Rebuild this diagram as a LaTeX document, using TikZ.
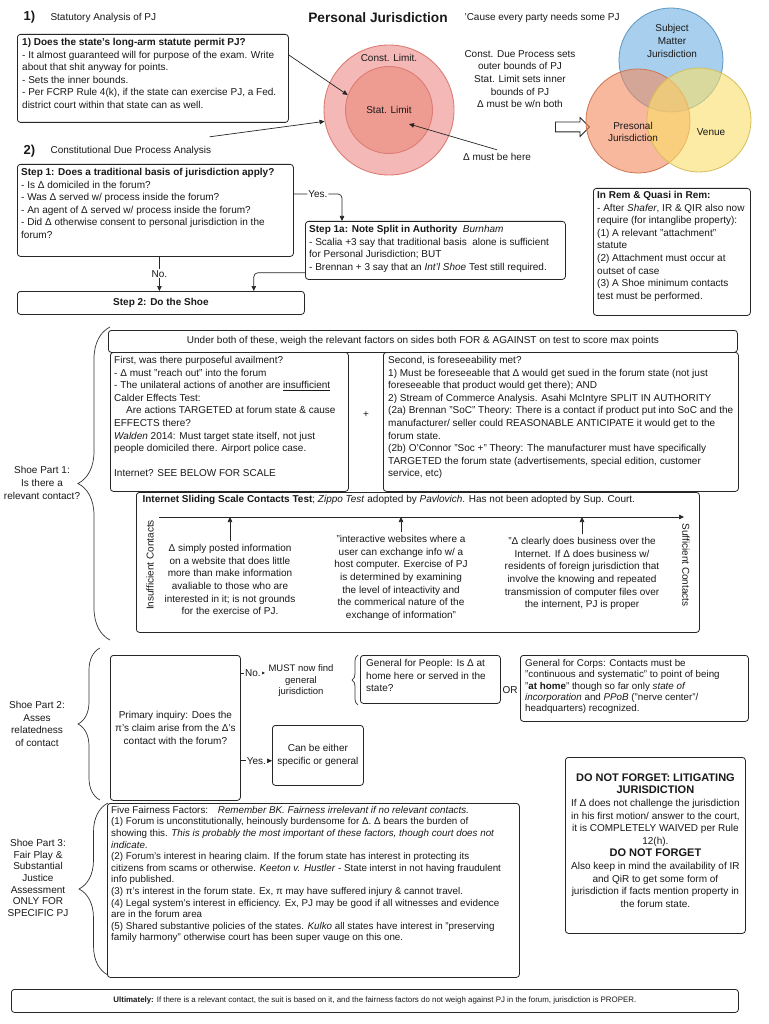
\documentclass[tikz,border=0pt]{standalone}
\usepackage{fontspec}
\setmainfont{Liberation Sans}
\usetikzlibrary{arrows.meta,shapes.arrows,decorations.pathreplacing}
\definecolor{pjouter}{HTML}{F4B9B7}
\definecolor{pjinner}{HTML}{EE9C91}
\definecolor{pjline}{HTML}{DD7B74}
\definecolor{smjblue}{HTML}{6FB1E3}
\definecolor{pjorange}{HTML}{F28A5E}
\definecolor{venyellow}{HTML}{FBDF6A}
\newcommand{\fs}[2]{\fontsize{#1}{#2}\selectfont}

\begin{document}
\begin{tikzpicture}[x=1pt,y=-1pt,
  every node/.style={font=\fs{10}{12.6},text=black!90},
  box/.style={draw=black!85,line width=0.8pt,rounded corners=3pt,inner sep=0pt,anchor=north west},
  txt/.style={anchor=north west,align=left,inner sep=0pt},
  arr/.style={-{Triangle[length=5pt,width=4.5pt]},line width=0.7pt,black!85},
  lbl/.style={fill=white,inner sep=1pt},
  brc/.style={decorate,decoration={brace,amplitude=#1},line width=0.7pt,black!80},
  ven/.style={circle,draw=#1!85!black,line width=0.8pt,fill=#1,fill opacity=0.6,minimum size=104pt,inner sep=0pt}]
\useasboundingbox (0,0) rectangle (768,1024);
\fill[white] (0,0) rectangle (768,1024);

% statutory part
\node[anchor=west,font=\fs{13}{15}\bfseries] (h1) at (20,17) {1)};
\node[anchor=west] (sa) at (47,18) {Statutory Analysis of PJ};
\node[font=\fs{13.7}{16}\bfseries] (title) at (378,18) {Personal Jurisdiction};
\node[anchor=west] (cause) at (461,18) {'Cause every party needs some PJ};
\node[box,minimum width=271pt,minimum height=88pt] (stat) at (17,34) {};
\node[txt] (stattxt) at ([shift={(5pt,-4pt)}]stat.north west) {\textbf{1) Does the state's long-arm statute permit PJ?}\\
- It almost guaranteed will for purpose of the exam. Write\\
about that shit anyway for points.\\
- Sets the inner bounds.\\
- Per FCRP Rule 4(k), if the state can exercise PJ, a Fed.\\
district court within that state can as well.};

% limits
\node[circle,draw=pjline,line width=0.9pt,fill=pjouter,minimum size=130pt] (constlim) at (389,110) {};
\node[circle,draw=pjline,line width=0.9pt,fill=pjinner,minimum size=87pt] (statlim) at (389,110) {Stat. Limit};
\node (constlbl) at (389,58) {Const. Limit.};
\node[align=center] (bounds) at (520,79) {Const. Due Process sets\\outer bounds of PJ\\Stat. Limit sets inner\\bounds of PJ\\Δ must be w/n both};
\node (here) at (497,157) {Δ must be here};
\node[single arrow,draw=black!85,line width=0.8pt,minimum height=34pt,inner sep=4.5pt,
  single arrow head extend=4.5pt] (hollow) at (570,127) {};

% venn
\node[ven=smjblue] (smj) at (671,60) {};
\node[ven=pjorange] (pjv) at (638,121) {};
\node[ven=venyellow] (venue) at (699,120) {};
\node[align=center] (smjtxt) at (672,41) {Subject\\Matter\\Jurisdiction};
\node[align=center] (pjtxt) at (633,132) {Presonal\\Jurisdiction};
\node (venuetxt) at (711,132) {Venue};

\node[box,minimum width=157pt,minimum height=127pt] (inrem) at (593,188) {};
\node[txt] (inremtxt) at ([shift={(4pt,-3pt)}]inrem.north west) {\textbf{In Rem \& Quasi in Rem:}\\
- After \textit{Shafer}, IR \& QIR also now\\
require (for intanglibe property):\\
(1) A relevant "attachment"\\
statute\\
(2) Attachment must occur at\\
outset of case\\
(3) A Shoe minimum contacts\\
test must be performed.};

% constitutional part
\node[anchor=west,font=\fs{13}{15}\bfseries] (h2) at (20,151) {2)};
\node[anchor=west] (cdp) at (47,151) {Constitutional Due Process Analysis};
\node[box,minimum width=276pt,minimum height=92pt] (step1) at (17,164) {};
\node[txt] (step1txt) at ([shift={(4pt,-4pt)}]step1.north west) {\textbf{Step 1: Does a traditional basis of jurisdiction apply?}\\
- Is Δ\ domiciled in the forum?\\
- Was Δ served w/ process inside the forum?\\
- An agent of Δ served w/ process inside the forum?\\
- Did Δ otherwise consent to personal jurisdiction in the\\
forum?};
\node[box,minimum width=260pt,minimum height=58pt] (step1a) at (305,221) {};
\node[txt] (step1atxt) at ([shift={(4pt,-4pt)}]step1a.north west) {\textbf{Step 1a: Note Split in Authority}\ \ \textit{Burnham}\\
- Scalia +3 say that traditional basis\ \ alone is sufficient\\
for Personal Jurisdiction; BUT\\
- Brennan + 3 say that an \textit{Int'l Shoe} Test still required.};
\node[box,minimum width=287pt,minimum height=23pt,font=\fs{10}{12}\bfseries] (step2) at (17,291) {Step 2: Do the Shoe};

\draw[arr] ([yshift=-21pt]stat.north east) -- (statlim.160);
\draw[arr] ([shift={(-5pt,6pt)}]cdp.north east) -- (constlim.190);
\draw[arr] (here.north) -- ([shift={(20pt,-14pt)}]statlim.center);
\draw[arr,rounded corners=4pt] ([yshift=-30pt]step1.north east) -| node[lbl,pos=0.25]{Yes.} ([xshift=37pt]step1a.north west);
\draw[arr] ([xshift=4pt]step1.south) -- node[lbl]{No.} ([xshift=4pt]step1.south |- step2.north);
\draw[arr,rounded corners=4pt] ([yshift=7pt]step1a.south west) -| ([xshift=-51pt]step2.north east);

% shoe part 1
\draw[brc=32pt] (110,640) -- (110,327);
\node[align=center] (sp1) at (42,483) {Shoe Part 1:\\Is there a\\relevant contact?};
\node[box,minimum width=629pt,minimum height=22pt] (weigh) at (108,330) {Under both of these, weigh the relevant factors on sides both FOR \& AGAINST on test to score max points};
\node[box,minimum width=238pt,minimum height=139pt] (avail) at (110,352) {};
\node[txt] (availtxt) at ([shift={(4pt,-4pt)}]avail.north west) {First, was there purposeful availment?\\
- Δ must "reach out" into the forum\\
- The unilateral actions of another are \underline{insufficient}\\
Calder Effects Test:\\
\hspace*{12pt}Are actions TARGETED at forum state \& cause\\
EFFECTS there?\\
\textit{Walden} 2014: Must target state itself, not just\\
people domiciled there. Airport police case.\\[12.6pt]
Internet? SEE BELOW FOR SCALE};
\node (plus) at (366,415) {+};
\node[box,minimum width=355pt,minimum height=139pt] (forsee) at (383,352) {};
\node[txt] (forseetxt) at ([shift={(5pt,-4pt)}]forsee.north west) {Second, is foreseeability met?\\
1) Must be foreseeable that Δ would get sued in the forum state (not just\\
foreseeable that product would get there); AND\\
2) Stream of Commerce Analysis. Asahi McIntyre SPLIT IN AUTHORITY\\
(2a) Brennan "SoC" Theory: There is a contact if product put into SoC and the\\
manufacturer/ seller could REASONABLE ANTICIPATE it would get to the\\
forum state.\\
(2b) O'Connor "Soc +" Theory: The manufacturer must have specifically\\
TARGETED the forum state (advertisements, special edition, customer\\
service, etc)};

\node[box,minimum width=563pt,minimum height=140pt] (inet) at (136,492) {};
\node[anchor=west] (inettl) at (139,500) {\textbf{Internet Sliding Scale Contacts Test}; \textit{Zippo Test} adopted by \textit{Pavlovich}. Has not been adopted by Sup. Court.};
\coordinate (ax0) at (159,517);
\coordinate (ax1) at (684,517);
\draw[arr] (ax0) -- (ax1);
\node[rotate=90] (insuf) at (150,565) {Insufficient Contacts};
\node[rotate=-90] (suf) at (686,565) {Sufficient Contacts};
\node[align=center,anchor=north,font=\fs{10}{12.6}] (blk1) at (230,541) {Δ simply posted information\\on a website that does little\\more than make information\\avaliable to those who are\\interested in it; is not grounds\\for the exercise of PJ.};
\node[align=center,anchor=north,font=\fs{10}{12.6}] (blk2) at (401,532) {"interactive websites where a\\user can exchange info w/ a\\host computer. Exercise of PJ\\is determined by examining\\the level of inteactivity and\\the commerical nature of the\\exchange of information"};
\node[align=center,anchor=north,font=\fs{10}{12.6}] (blk3) at (582,534) {"Δ clearly does business over the\\Internet. If Δ does business w/\\residents of foreign jurisdiction that\\involve the knowing and repeated\\transmission of computer files over\\the internent, PJ is proper};
\draw[arr] (blk1.north) -- (blk1.north |- ax0);
\draw[arr] (blk2.north) -- (blk2.north |- ax0);
\draw[arr] (blk3.north) -- (blk3.north |- ax0);

% shoe part 2
\draw[brc=22pt] (100,800) -- (100,648);
\node[align=center] (sp2) at (37,724) {Shoe Part 2:\\Asses\\relatedness\\of contact};
\node[box,minimum width=130pt,minimum height=145pt,align=center] (prim) at (110,655) {Primary inquiry: Does the\\π's claim arise from the Δ's\\contact with the forum?};
\node[align=center,font=\fs{9.5}{11.5}] (must) at (301,681) {MUST now find\\general\\jurisdiction};
\draw[arr] ([yshift=-18pt]prim.north east) coordinate (pno) -- node[lbl]{No.} (pno -| must.west);
\draw[brc=6pt] (358,705) -- (358,655);
\node[box,minimum width=140pt,minimum height=48pt] (people) at (360,655) {};
\node[txt] (peopletxt) at ([shift={(6pt,-4pt)}]people.north west) {General for People: Is Δ at\\home here or served in the\\state?};
\node (or) at (510,690) {OR};
\node[box,minimum width=228pt,minimum height=66pt] (corps) at (520,655) {};
\node[txt,font=\fs{9.8}{11.4}] (corpstxt) at ([shift={(5pt,-4pt)}]corps.north west) {General for Corps: Contacts must be\\
"continuous and systematic" to point of being\\
"\textbf{at home}" though so far only \textit{state of}\\
\textit{incorporation} and \textit{PPoB} ("nerve center"/\\
headquarters) recognized.};
\node[box,minimum width=91pt,minimum height=60pt,align=center] (either) at (272,725) {Can be either\\specific or general};
\draw[arr] ([yshift=40pt]prim.south east) coordinate (pyes) -- node[lbl]{Yes.} (pyes -| either.west);

\node[box,minimum width=180pt,minimum height=176pt] (dnf) at (565,757) {};
\node[align=center,anchor=north] (dnftxt) at ([yshift=-13pt]dnf.north) {{\fs{11}{13}\bfseries DO NOT FORGET: LITIGATING}\\
{\fs{11}{13}\bfseries JURISDICTION}\\
If Δ does not challenge the jurisdiction\\
in his first motion/ answer to the court,\\
it is COMPLETELY WAIVED per Rule\\
12(h).\\
{\fs{11}{13}\bfseries DO NOT FORGET}\\
Also keep in mind the availability of IR\\
and QiR to get some form of\\
jurisdiction if facts mention property in\\
the forum state.};

% shoe part 3
\draw[brc=29pt] (108,975) -- (108,803);
\node[align=center,font=\fs{10}{11.7}] (sp3) at (38,878) {Shoe Part 3:\\Fair Play \&\\Substantial\\Justice\\Assessment\\ONLY FOR\\SPECIFIC PJ};
\node[box,minimum width=412pt,minimum height=174pt] (fair) at (107,803) {};
\node[txt,font=\fs{9.8}{11.6}] (fairtxt) at ([shift={(4pt,-3pt)}]fair.north west) {Five Fairness Factors:\quad \textit{Remember BK. Fairness irrelevant if no relevant contacts.}\\
(1) Forum is unconstitutionally, heinously burdensome for Δ. Δ bears the burden of\\
showing this. \textit{This is probably the most important of these factors, though court does not}\\
\textit{indicate}.\\
(2) Forum's interest in hearing claim. If the forum state has interest in protecting its\\
citizens from scams or otherwise. \textit{Keeton v. Hustler} - State interst in not having fraudulent\\
info published.\\
(3) π's interest in the forum state. Ex, π may have suffered injury \& cannot travel.\\
(4) Legal system's interest in efficiency. Ex, PJ may be good if all witnesses and evidence\\
are in the forum area\\
(5) Shared substantive policies of the states. \textit{Kulko} all states have interest in "preserving\\
family harmony" otherwise court has been super vauge on this one.};

\node[box,minimum width=727pt,minimum height=23pt,font=\fs{7.9}{9}] (ult) at (11,989) {\textbf{Ultimately:} If there is a relevant contact, the suit is based on it, and the fairness factors do not weigh against PJ in the forum, jurisdiction is PROPER.};
\end{tikzpicture}
\end{document}
